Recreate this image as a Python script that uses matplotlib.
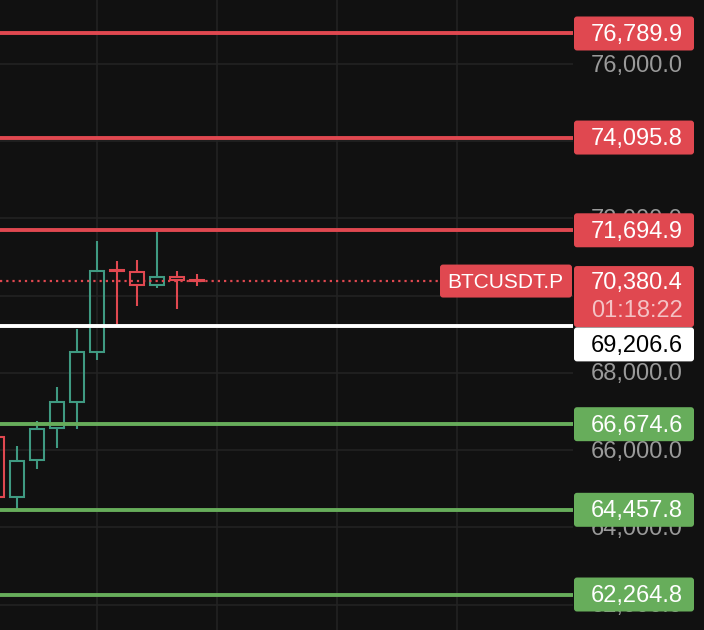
import matplotlib
matplotlib.use('Agg')
from matplotlib import pyplot as plt
from matplotlib.patches import FancyBboxPatch
import numpy as np

# candles (oldest first)
opens = [66343, 64790, 65747, 66576, 67249, 68544, 70667, 70615, 70278, 70485, 70408]
closes = [64790, 65722, 66550, 67249, 68544, 70641, 70641, 70278, 70485, 70408, 70380.4]
highs = [66500, 66110, 66757, 67638, 69139, 71417, 70900, 70926, 71676, 70641, 70563]
lows = [64600, 64427, 65515, 66058, 66550, 68337, 69269, 69735, 70201, 69657, 70252]

levels_red = [76789.9, 74095.8, 71694.9]
levels_green = [66674.6, 64457.8, 62264.8]
level_white = 69206.6
last_price = 70380.4
symbol = 'BTCUSDT.P'
countdown = '01:18:22'
price_ticks = [62000, 64000, 66000, 68000, 70000, 72000, 74000, 76000]

BG = '#111111'
GRID = '#232323'
RED = '#e04850'
GREEN = '#67ad5b'
CANDLE_GREEN = '#3f9a82'
FONT = 'Liberation Sans'

W, H = 704, 630
YLIM = (61346, 77657)
k = (YLIM[1] - YLIM[0]) / H  # price per pixel
TXT_DY = -1.5 * k  # nudge text down so digits sit centred in the boxes

fig = plt.figure(figsize=(W / 100, H / 100), dpi=100, facecolor=BG)
ax = fig.add_axes([0, 0, 573 / W, 1], facecolor=BG)
ax.set_xlim(0.15, 28.8)
ax.set_ylim(*YLIM)
ax.set_yticks(price_ticks)
ax.set_xticks([5, 11, 17, 23])
ax.grid(True, color=GRID, lw=1.2)
ax.tick_params(length=0, labelleft=False, labelbottom=False)
for s in ax.spines.values():
	s.set_visible(False)

# candles
x = np.arange(len(opens))
for i in x:
	o, c, hi, lo = opens[i], closes[i], highs[i], lows[i]
	col = CANDLE_GREEN if c >= o else RED
	top, bot = max(o, c), min(o, c)
	ax.vlines(i, top, hi, color=col, lw=1.5, zorder=3)
	ax.vlines(i, lo, bot, color=col, lw=1.5, zorder=3)
	ax.bar(i, max(top - bot, k * 0.5), bottom=bot, width=0.72, facecolor='none',
		edgecolor=col, lw=1.5, zorder=3)

# level lines
for p in levels_red:
	ax.axhline(p, color=RED, lw=2.8, zorder=4)
for p in levels_green:
	ax.axhline(p, color=GREEN, lw=2.8, zorder=4)
ax.axhline(level_white, color='white', lw=2.8, zorder=4)
ax.plot([0.15, 22.15], [last_price, last_price], color=RED, lw=1.6,
	linestyle=(0, (1, 1.8)), zorder=4)

# symbol label on the chart
ax.add_patch(FancyBboxPatch((22.15, last_price - 16.5 * k), 6.6, 33 * k,
	boxstyle='round,pad=0,rounding_size=0.15', mutation_aspect=k * 20,
	facecolor=RED, edgecolor='none', zorder=6))
ax.text(25.43, last_price + TXT_DY, symbol, color='white', fontsize=15, family=FONT,
	ha='center', va='center', zorder=7)

# right price scale
ax2 = fig.add_axes([573 / W, 0, 131 / W, 1], facecolor=BG)
ax2.set_xlim(0, 131)
ax2.set_ylim(*YLIM)
ax2.axis('off')

for p in price_ticks:
	ax2.text(110, p + TXT_DY, f'{p:,.1f}', color='#9a9a9a', fontsize=17, family=FONT,
		ha='right', va='center', zorder=1)


def box(y0, y1, face, z=5):
	ax2.add_patch(FancyBboxPatch((1, y0), 120, y1 - y0,
		boxstyle='round,pad=0,rounding_size=3', mutation_aspect=k,
		facecolor=face, edgecolor='none', zorder=z))


def label(center, text, face, tc='white'):
	box(center - 17 * k, center + 17 * k, face)
	ax2.text(110, center + TXT_DY, f'{text:,.1f}', color=tc, fontsize=17, family=FONT,
		ha='right', va='center', zorder=6)


for p in levels_red:
	label(p, p, RED)
for p in levels_green:
	label(p, p, GREEN)
label(level_white - 18 * k, level_white, 'white', tc='black')

box(last_price - 46 * k, last_price + 15 * k, RED)
ax2.text(110, last_price + TXT_DY, f'{last_price:,.1f}', color='white', fontsize=17,
	family=FONT, ha='right', va='center', zorder=6)
ax2.text(110, last_price - 28 * k + TXT_DY, countdown, color='#f4c2c5', fontsize=17,
	family=FONT, ha='right', va='center', zorder=6)

fig.savefig('out.png', dpi=100, facecolor=BG)
